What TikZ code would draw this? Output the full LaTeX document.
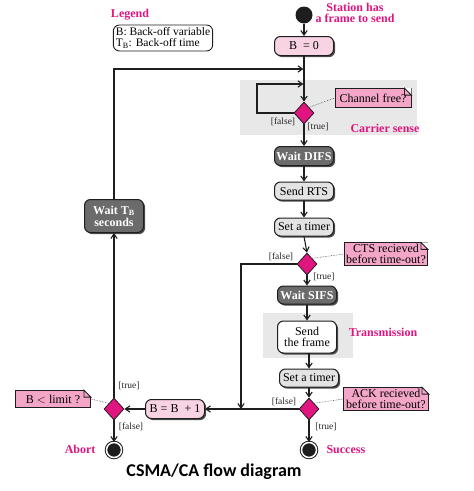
\documentclass[tikz,border=0pt]{standalone}
\usepackage{fontspec}
\setmainfont{Liberation Serif}
\newfontfamily\titlefont{Carlito}
\usepackage{xcolor}
\usetikzlibrary{arrows.meta,positioning,shapes.geometric,shadows,calc,backgrounds}
\definecolor{cMag}{HTML}{E0157F}
\definecolor{cPink}{HTML}{F8D3E3}
\definecolor{cNote}{HTML}{F4A6C9}
\definecolor{cDark}{HTML}{6B6B6B}
\definecolor{cLight}{HTML}{E3E3E3}
\definecolor{cZone}{HTML}{E8E8E8}
\definecolor{cInk}{HTML}{1E1E1E}
\tikzset{
  act/.style    = {draw=cInk, line width=1pt, rounded corners=6pt, align=center,
                   inner sep=1.5pt, minimum height=19pt, minimum width=59pt,
                   font=\fontsize{12}{11.5}\selectfont,
                   drop shadow={shadow xshift=1.6pt, shadow yshift=-1.6pt,
                                opacity=1, fill=black!70}},
  pinkact/.style = {act, fill=cPink},
  lightact/.style= {act, fill=cLight},
  darkact/.style = {act, fill=cDark, text=white, font=\fontsize{12}{11.5}\selectfont\bfseries},
  whiteact/.style= {act, fill=white},
  decide/.style = {diamond, draw=cInk, fill=cMag, line width=0.8pt, inner sep=0pt,
                   minimum width=20pt, minimum height=22pt},
  memo/.style   = {draw=cInk, fill=cNote, line width=0.8pt, align=center,
                   inner sep=1.5pt, font=\fontsize{12}{11}\selectfont},
  guard/.style  = {font=\fontsize{9.5}{10}\selectfont, text=black!85},
  tag/.style    = {font=\fontsize{12}{11}\selectfont\bfseries, text=cMag, align=center},
  zone/.style   = {fill=cZone, draw=none},
  flow/.style   = {-{Straight Barb[length=1.6mm,width=2.2mm]}, line width=1.1pt, draw=cInk},
  wire/.style   = {line width=1.1pt, draw=cInk},
  hint/.style   = {densely dotted, draw=black!70, line width=0.6pt},
  startpt/.style= {circle, fill=cInk, minimum size=17pt, inner sep=0pt},
  endpt/.style  = {circle, fill=cInk, draw=cInk, minimum size=15pt, inner sep=0pt,
                   line width=1pt, double=white, double distance=1.5pt},
}
% folded corner of a memo node
\newcommand\dogear[1]{%
  \fill[white] ($(#1.north east)+(-7,0)$) -- (#1.north east) -- ($(#1.north east)+(0,7)$) -- cycle;
  \draw[line width=0.8pt, cInk] ($(#1.north east)+(-7,0)$) -- ($(#1.north east)+(-7,7)$)
    -- ($(#1.north east)+(0,7)$) -- cycle;}

\begin{document}
\begin{tikzpicture}[x=1pt, y=-1pt]
  \useasboundingbox (0,0) rectangle (474,491);
  % shaded zones
  \fill[zone] (240,80) rectangle (417,135);
  \fill[zone] (263,313) rectangle (353,358);

  % legend
  \node[tag] (legendhd) at (130,15) {Legend};
  \node[draw=cInk, line width=0.9pt, rounded corners=6pt, align=left, inner sep=2.5pt,
        font=\fontsize{11.5}{11}\selectfont] (legend) at (163,38)
    {B: Back-off variable\\T$_{\mathrm{B}}$: Back-off time};

  % main column
  \node[startpt] (start) at (304,15) {};
  \node[tag] (startlbl) at (355,13) {Station has\\a frame to send};
  \node[pinkact] (b0) at (304,46) {B \ = 0};
  \node[decide] (chan) at (304,113) {};
  \node[darkact] (difs) at (304,156) {Wait DIFS};
  \node[lightact, minimum height=18pt] (rts) at (304,191) {Send RTS};
  \node[lightact, minimum height=18pt] (timer1) at (304,227) {Set a timer};
  \node[decide] (cts) at (307,264) {};
  \node[darkact, minimum height=18pt] (sifs) at (307,295) {Wait SIFS};
  \node[whiteact, minimum height=32pt] (frame) at (307,337) {Send\\the frame};
  \node[lightact, minimum height=18pt] (timer2) at (309,378) {Set a timer};
  \node[decide] (ack) at (309,409) {};
  \node[endpt] (success) at (309,450) {};
  \node[tag, anchor=west] (successlbl) at (323,450) {Success};

  % left part
  \node[pinkact] (inc) at (175,409) {B = B \ + 1};
  \node[decide] (lim) at (114,409) {};
  \node[endpt] (abort) at (114,450) {};
  \node[tag, anchor=east] (abortlbl) at (99,449) {Abort};
  \node[darkact, minimum height=33pt, font=\fontsize{12}{13}\selectfont\bfseries] (waittb) at (114,216)
    {Wait T$_{\mathbf{B}}$\\[-1pt]seconds};

  % zone captions
  \node[tag] (carrier) at (385,128) {Carrier sense};
  \node[tag] (transm) at (383,332) {Transmission};

  % memos
  \node[memo, minimum width=76pt, minimum height=19pt] (memochan) at (373,98) {Channel free?};
  \node[memo, minimum width=83pt, minimum height=22pt] (memocts) at (386,254)
    {CTS recieved\\before time-out?};
  \node[memo, minimum width=85pt, minimum height=23pt] (memoack) at (386,399)
    {ACK recieved\\before time-out?};
  \node[memo, minimum width=75pt, minimum height=17pt] (memolim) at (53,399) {B $<$ limit ?};
  \foreach \m in {memochan,memocts,memoack,memolim} \dogear{\m};

  % guards
  \node[guard] at (283,122) {[false]};
  \node[guard] at (318,127) {[true]};
  \node[guard] at (281,257) {[false]};
  \node[guard] at (324,277) {[true]};
  \node[guard] at (284,402) {[false]};
  \node[guard] at (326,427) {[true]};
  \node[guard] at (129,386) {[true]};
  \node[guard] at (131,427) {[false]};

  % helper points
  \coordinate (loopjoin) at (304,69);
  \coordinate (looptl) at (257,84);
  \coordinate (ctsdrop) at (241,409);

  % main flow
  \draw[flow] (start) -- (b0);
  \draw[flow] (b0) -- (chan);
  \draw[flow] (chan.west) -| (looptl) -- ($(looptl -| chan)+(-0.6,0)$);
  \draw[flow] (chan) -- (difs);
  \draw[flow] (difs) -- (rts);
  \draw[flow] (rts) -- (timer1);
  \draw[flow] (timer1.south) -- (cts.north);
  \draw[flow] (cts) -- (sifs);
  \draw[flow] (sifs) -- (frame);
  \draw[flow] (frame.south) -- (timer2.south |- frame.south) -- (timer2.north);
  \draw[flow] (timer2) -- (ack);
  \draw[flow] (ack) -- (success);

  % back-off loop
  \draw[flow] (cts.west) -| (ctsdrop);
  \draw[flow] (ack.west) -- (inc.east);
  \draw[flow] (inc.west) -- (lim.east);
  \draw[flow] (lim.north) -- (waittb.south);
  \draw[flow] (waittb.north) |- ($(loopjoin)+(-0.6,0)$);
  \draw[flow] (lim) -- (abort);

  % memo links
  \draw[hint] (chan.north east) -- (memochan.west);
  \draw[hint] (cts.north east) -- (memocts.west);
  \draw[hint] (ack.north east) -- (memoack.west);
  \draw[hint] (lim.north west) -- (memolim.east);

  % title
  \node[font=\titlefont\bfseries\fontsize{18}{20}\selectfont] (title) at (214,472) {CSMA/CA flow diagram};
\end{tikzpicture}
\end{document}
